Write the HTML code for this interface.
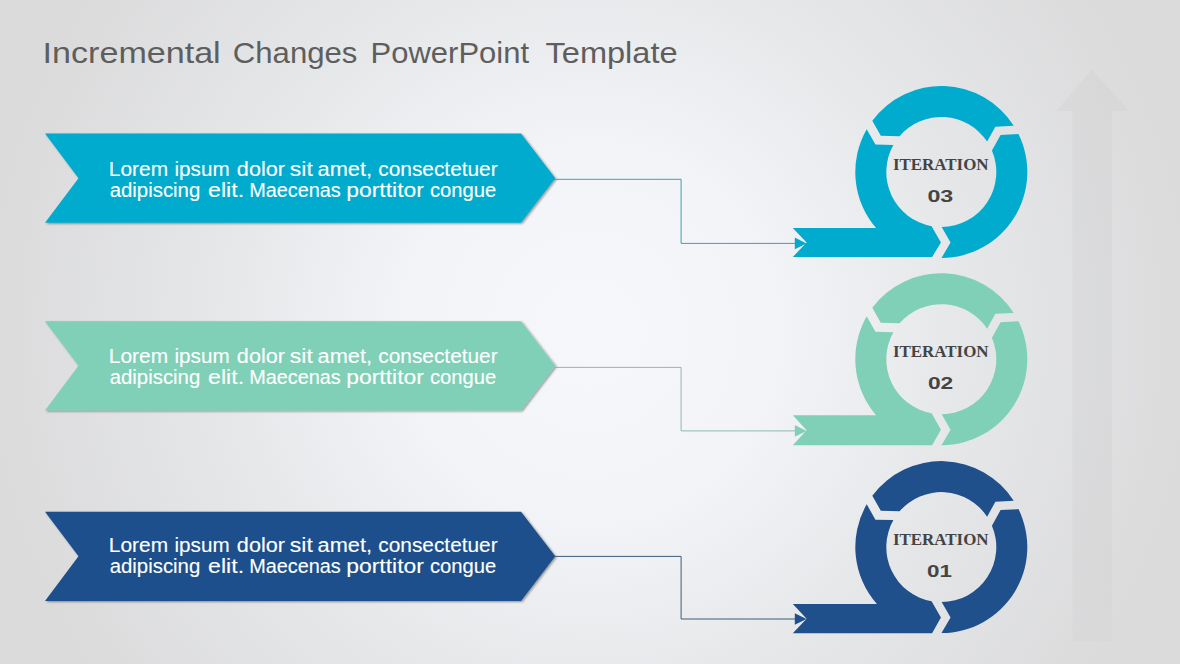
<!DOCTYPE html>
<html><head><meta charset="utf-8">
<style>
html,body{margin:0;padding:0;width:1180px;height:664px;overflow:hidden;}
body{background:radial-gradient(circle 600px at 50% 50%, rgb(246,247,250) 0%, rgb(243,244,247) 30%, rgb(230,231,233) 62%, rgb(219,219,220) 100%);font-family:"Liberation Sans",sans-serif;}
svg{position:absolute;left:0;top:0;}
</style></head><body>
<svg width="1180" height="664" viewBox="0 0 1180 664">
<defs><filter id="sh" x="-5%" y="-10%" width="110%" height="125%"><feDropShadow dx="1.4" dy="1" stdDeviation="1.1" flood-color="#000" flood-opacity="0.4"/></filter></defs>
<defs><linearGradient id="ag" x1="0" y1="0" x2="0" y2="1"><stop offset="0" stop-color="#C4C4C5" stop-opacity="0.2"/><stop offset="0.85" stop-color="#C4C4C5" stop-opacity="0.2"/><stop offset="1" stop-color="#C4C4C5" stop-opacity="0.12"/></linearGradient></defs><path d="M1092 69.5 L1129 111 L1112 111 L1112 641 L1072.5 641 L1072.5 111 L1056 111 Z" fill="url(#ag)"/>
<path d="M45 133.60 L521 133.60 L555.3 178.20 L521 222.80 L45 222.80 L78.5 178.20 Z" fill="#00ABCD" filter="url(#sh)"/>
<path d="M554 179.30 H681.1 V243.40 H796" fill="none" stroke="#35A3BB" stroke-width="1.0"/>
<path d="M941.48 258.00 A86.00 86.00 0 0 0 1018.46 134.02 L1000.58 134.96 L991.94 150.54 A55.00 55.00 0 0 1 941.69 227.00 L950.57 242.50 Z" fill="#00ABCD"/>
<path d="M1013.76 125.68 A86.00 86.00 0 0 0 872.31 120.66 L880.78 135.64 L899.61 136.13 A55.00 55.00 0 0 1 987.11 141.57 L995.39 126.65 Z" fill="#00ABCD"/>
<path d="M866.72 129.17 A86.00 86.00 0 0 0 876.12 228.10 L792.80 228.10 L806.60 242.55 L792.80 257.00 L932.10 257.00 L940.93 242.45 L931.59 226.14 A55.00 55.00 0 0 1 893.37 145.02 L875.43 144.55 Z" fill="#00ABCD"/>
<path d="M794.8 237.60 L806.5 243.40 L794.8 249.20 Z" fill="#00ABCD"/>
<text x="108.86" y="176.00" font-family="Liberation Sans" font-weight="normal" font-size="19.5" fill="#FFFFFF" textLength="59.21" lengthAdjust="spacingAndGlyphs" stroke="#FFFFFF" stroke-width="0.12">Lorem</text>
<text x="174.54" y="176.00" font-family="Liberation Sans" font-weight="normal" font-size="19.5" fill="#FFFFFF" textLength="55.05" lengthAdjust="spacingAndGlyphs" stroke="#FFFFFF" stroke-width="0.12">ipsum</text>
<text x="236.89" y="176.00" font-family="Liberation Sans" font-weight="normal" font-size="19.5" fill="#FFFFFF" textLength="48.02" lengthAdjust="spacingAndGlyphs" stroke="#FFFFFF" stroke-width="0.12">dolor</text>
<text x="289.82" y="176.00" font-family="Liberation Sans" font-weight="normal" font-size="19.5" fill="#FFFFFF" textLength="22.97" lengthAdjust="spacingAndGlyphs" stroke="#FFFFFF" stroke-width="0.12">sit</text>
<text x="317.58" y="176.00" font-family="Liberation Sans" font-weight="normal" font-size="19.5" fill="#FFFFFF" textLength="54.51" lengthAdjust="spacingAndGlyphs" stroke="#FFFFFF" stroke-width="0.12">amet,</text>
<text x="378.33" y="176.00" font-family="Liberation Sans" font-weight="normal" font-size="19.5" fill="#FFFFFF" textLength="119.30" lengthAdjust="spacingAndGlyphs" stroke="#FFFFFF" stroke-width="0.12">consectetuer</text>
<text x="109.66" y="197.20" font-family="Liberation Sans" font-weight="normal" font-size="19.5" fill="#FFFFFF" textLength="90.61" lengthAdjust="spacingAndGlyphs" stroke="#FFFFFF" stroke-width="0.12">adipiscing</text>
<text x="208.11" y="197.20" font-family="Liberation Sans" font-weight="normal" font-size="19.5" fill="#FFFFFF" textLength="36.00" lengthAdjust="spacingAndGlyphs" stroke="#FFFFFF" stroke-width="0.12">elit.</text>
<text x="249.16" y="197.20" font-family="Liberation Sans" font-weight="normal" font-size="19.5" fill="#FFFFFF" textLength="91.62" lengthAdjust="spacingAndGlyphs" stroke="#FFFFFF" stroke-width="0.12">Maecenas</text>
<text x="346.33" y="197.20" font-family="Liberation Sans" font-weight="normal" font-size="19.5" fill="#FFFFFF" textLength="77.50" lengthAdjust="spacingAndGlyphs" stroke="#FFFFFF" stroke-width="0.12">porttitor</text>
<text x="429.96" y="197.20" font-family="Liberation Sans" font-weight="normal" font-size="19.5" fill="#FFFFFF" textLength="66.25" lengthAdjust="spacingAndGlyphs" stroke="#FFFFFF" stroke-width="0.12">congue</text>
<text x="892.90" y="169.80" font-family="Liberation Serif" font-weight="bold" font-size="17" fill="#444444" textLength="95.64" lengthAdjust="spacingAndGlyphs">ITERATION</text>
<text x="927.46" y="201.50" font-family="Liberation Sans" font-weight="bold" font-size="17.3" fill="#444444" textLength="25.86" lengthAdjust="spacingAndGlyphs">03</text>
<path d="M45 321.20 L521 321.20 L555.3 365.80 L521 410.40 L45 410.40 L78.5 365.80 Z" fill="#7FD0B6" filter="url(#sh)"/>
<path d="M554 367.40 H681.1 V430.90 H796" fill="none" stroke="#8DBBAE" stroke-width="1.0"/>
<path d="M941.48 445.20 A86.00 86.00 0 0 0 1018.46 321.22 L1000.58 322.16 L991.94 337.74 A55.00 55.00 0 0 1 941.69 414.20 L950.57 429.70 Z" fill="#7FD0B6"/>
<path d="M1013.76 312.88 A86.00 86.00 0 0 0 872.31 307.86 L880.78 322.84 L899.61 323.33 A55.00 55.00 0 0 1 987.11 328.77 L995.39 313.85 Z" fill="#7FD0B6"/>
<path d="M866.72 316.37 A86.00 86.00 0 0 0 876.03 415.20 L792.80 415.20 L806.60 430.20 L792.80 445.20 L932.10 445.20 L940.93 429.65 L931.59 413.34 A55.00 55.00 0 0 1 893.37 332.22 L875.43 331.75 Z" fill="#7FD0B6"/>
<path d="M794.8 425.10 L806.5 430.90 L794.8 436.70 Z" fill="#7FD0B6"/>
<text x="108.86" y="363.00" font-family="Liberation Sans" font-weight="normal" font-size="19.5" fill="#FFFFFF" textLength="59.21" lengthAdjust="spacingAndGlyphs" stroke="#FFFFFF" stroke-width="0.12">Lorem</text>
<text x="174.54" y="363.00" font-family="Liberation Sans" font-weight="normal" font-size="19.5" fill="#FFFFFF" textLength="55.05" lengthAdjust="spacingAndGlyphs" stroke="#FFFFFF" stroke-width="0.12">ipsum</text>
<text x="236.89" y="363.00" font-family="Liberation Sans" font-weight="normal" font-size="19.5" fill="#FFFFFF" textLength="48.02" lengthAdjust="spacingAndGlyphs" stroke="#FFFFFF" stroke-width="0.12">dolor</text>
<text x="289.82" y="363.00" font-family="Liberation Sans" font-weight="normal" font-size="19.5" fill="#FFFFFF" textLength="22.97" lengthAdjust="spacingAndGlyphs" stroke="#FFFFFF" stroke-width="0.12">sit</text>
<text x="317.58" y="363.00" font-family="Liberation Sans" font-weight="normal" font-size="19.5" fill="#FFFFFF" textLength="54.51" lengthAdjust="spacingAndGlyphs" stroke="#FFFFFF" stroke-width="0.12">amet,</text>
<text x="378.33" y="363.00" font-family="Liberation Sans" font-weight="normal" font-size="19.5" fill="#FFFFFF" textLength="119.30" lengthAdjust="spacingAndGlyphs" stroke="#FFFFFF" stroke-width="0.12">consectetuer</text>
<text x="109.66" y="384.10" font-family="Liberation Sans" font-weight="normal" font-size="19.5" fill="#FFFFFF" textLength="90.61" lengthAdjust="spacingAndGlyphs" stroke="#FFFFFF" stroke-width="0.12">adipiscing</text>
<text x="208.11" y="384.10" font-family="Liberation Sans" font-weight="normal" font-size="19.5" fill="#FFFFFF" textLength="36.00" lengthAdjust="spacingAndGlyphs" stroke="#FFFFFF" stroke-width="0.12">elit.</text>
<text x="249.16" y="384.10" font-family="Liberation Sans" font-weight="normal" font-size="19.5" fill="#FFFFFF" textLength="91.62" lengthAdjust="spacingAndGlyphs" stroke="#FFFFFF" stroke-width="0.12">Maecenas</text>
<text x="346.33" y="384.10" font-family="Liberation Sans" font-weight="normal" font-size="19.5" fill="#FFFFFF" textLength="77.50" lengthAdjust="spacingAndGlyphs" stroke="#FFFFFF" stroke-width="0.12">porttitor</text>
<text x="429.96" y="384.10" font-family="Liberation Sans" font-weight="normal" font-size="19.5" fill="#FFFFFF" textLength="66.25" lengthAdjust="spacingAndGlyphs" stroke="#FFFFFF" stroke-width="0.12">congue</text>
<text x="892.90" y="357.00" font-family="Liberation Serif" font-weight="bold" font-size="17" fill="#444444" textLength="95.64" lengthAdjust="spacingAndGlyphs">ITERATION</text>
<text x="927.98" y="388.70" font-family="Liberation Sans" font-weight="bold" font-size="17.3" fill="#444444" textLength="25.33" lengthAdjust="spacingAndGlyphs">02</text>
<path d="M45 511.70 L521 511.70 L555.3 556.30 L521 600.90 L45 600.90 L78.5 556.30 Z" fill="#1F508B" filter="url(#sh)"/>
<path d="M554 556.40 H681.1 V619.00 H796" fill="none" stroke="#3E5C7C" stroke-width="1.0"/>
<path d="M941.48 633.10 A86.00 86.00 0 0 0 1018.46 509.12 L1000.58 510.06 L991.94 525.64 A55.00 55.00 0 0 1 941.69 602.10 L950.57 617.60 Z" fill="#1F508B"/>
<path d="M1013.76 500.78 A86.00 86.00 0 0 0 872.31 495.76 L880.78 510.74 L899.61 511.23 A55.00 55.00 0 0 1 987.11 516.67 L995.39 501.75 Z" fill="#1F508B"/>
<path d="M866.72 504.27 A86.00 86.00 0 0 0 876.90 604.10 L792.80 604.10 L806.60 618.65 L792.80 633.20 L932.10 633.20 L940.93 617.55 L931.59 601.24 A55.00 55.00 0 0 1 893.37 520.12 L875.43 519.65 Z" fill="#1F508B"/>
<path d="M794.8 613.20 L806.5 619.00 L794.8 624.80 Z" fill="#1F508B"/>
<text x="108.86" y="551.50" font-family="Liberation Sans" font-weight="normal" font-size="19.5" fill="#FFFFFF" textLength="59.21" lengthAdjust="spacingAndGlyphs" stroke="#FFFFFF" stroke-width="0.12">Lorem</text>
<text x="174.54" y="551.50" font-family="Liberation Sans" font-weight="normal" font-size="19.5" fill="#FFFFFF" textLength="55.05" lengthAdjust="spacingAndGlyphs" stroke="#FFFFFF" stroke-width="0.12">ipsum</text>
<text x="236.89" y="551.50" font-family="Liberation Sans" font-weight="normal" font-size="19.5" fill="#FFFFFF" textLength="48.02" lengthAdjust="spacingAndGlyphs" stroke="#FFFFFF" stroke-width="0.12">dolor</text>
<text x="289.82" y="551.50" font-family="Liberation Sans" font-weight="normal" font-size="19.5" fill="#FFFFFF" textLength="22.97" lengthAdjust="spacingAndGlyphs" stroke="#FFFFFF" stroke-width="0.12">sit</text>
<text x="317.58" y="551.50" font-family="Liberation Sans" font-weight="normal" font-size="19.5" fill="#FFFFFF" textLength="54.51" lengthAdjust="spacingAndGlyphs" stroke="#FFFFFF" stroke-width="0.12">amet,</text>
<text x="378.33" y="551.50" font-family="Liberation Sans" font-weight="normal" font-size="19.5" fill="#FFFFFF" textLength="119.30" lengthAdjust="spacingAndGlyphs" stroke="#FFFFFF" stroke-width="0.12">consectetuer</text>
<text x="109.66" y="572.50" font-family="Liberation Sans" font-weight="normal" font-size="19.5" fill="#FFFFFF" textLength="90.61" lengthAdjust="spacingAndGlyphs" stroke="#FFFFFF" stroke-width="0.12">adipiscing</text>
<text x="208.11" y="572.50" font-family="Liberation Sans" font-weight="normal" font-size="19.5" fill="#FFFFFF" textLength="36.00" lengthAdjust="spacingAndGlyphs" stroke="#FFFFFF" stroke-width="0.12">elit.</text>
<text x="249.16" y="572.50" font-family="Liberation Sans" font-weight="normal" font-size="19.5" fill="#FFFFFF" textLength="91.62" lengthAdjust="spacingAndGlyphs" stroke="#FFFFFF" stroke-width="0.12">Maecenas</text>
<text x="346.33" y="572.50" font-family="Liberation Sans" font-weight="normal" font-size="19.5" fill="#FFFFFF" textLength="77.50" lengthAdjust="spacingAndGlyphs" stroke="#FFFFFF" stroke-width="0.12">porttitor</text>
<text x="429.96" y="572.50" font-family="Liberation Sans" font-weight="normal" font-size="19.5" fill="#FFFFFF" textLength="66.25" lengthAdjust="spacingAndGlyphs" stroke="#FFFFFF" stroke-width="0.12">congue</text>
<text x="892.90" y="544.90" font-family="Liberation Serif" font-weight="bold" font-size="17" fill="#444444" textLength="95.64" lengthAdjust="spacingAndGlyphs">ITERATION</text>
<text x="927.01" y="576.60" font-family="Liberation Sans" font-weight="bold" font-size="17.3" fill="#444444" textLength="24.90" lengthAdjust="spacingAndGlyphs">01</text>
<text x="42.62" y="63.20" font-family="Liberation Sans" font-weight="normal" font-size="30.25" fill="#5E5E5E" textLength="178.09" lengthAdjust="spacingAndGlyphs">Incremental</text>
<text x="232.74" y="63.20" font-family="Liberation Sans" font-weight="normal" font-size="30.25" fill="#5E5E5E" textLength="124.69" lengthAdjust="spacingAndGlyphs">Changes</text>
<text x="370.63" y="63.20" font-family="Liberation Sans" font-weight="normal" font-size="30.25" fill="#5E5E5E" textLength="158.37" lengthAdjust="spacingAndGlyphs">PowerPoint</text>
<text x="545.52" y="63.20" font-family="Liberation Sans" font-weight="normal" font-size="30.25" fill="#5E5E5E" textLength="132.08" lengthAdjust="spacingAndGlyphs">Template</text>
</svg>
</body></html>
